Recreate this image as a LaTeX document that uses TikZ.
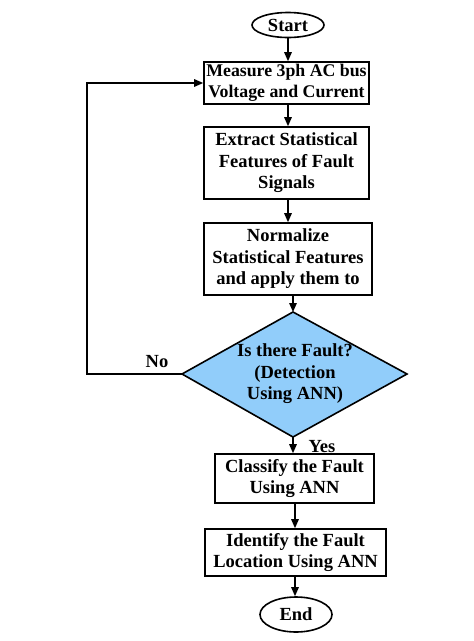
\documentclass[tikz,border=0pt]{standalone}
\usepackage{fontspec}
\setmainfont{Liberation Serif}
\usetikzlibrary{shapes.geometric,arrows.meta}
\definecolor{diafill}{RGB}{145,205,250}
\begin{document}
\begin{tikzpicture}[x=1pt,y=-1pt,
  every node/.style={font=\fontsize{18.5}{21.5}\selectfont\bfseries},
  procbox/.style={draw,line width=1.6pt,align=center,inner sep=0pt},
  term/.style={draw,ellipse,line width=1.6pt,inner sep=0pt},
  decision/.style={draw,fill=diafill,line width=1.6pt,line join=miter},
  arr/.style={line width=1.4pt,-{Triangle[length=9pt,width=7.5pt]}},
  lbl/.style={inner sep=0pt}]
\useasboundingbox (0,0) rectangle (474,641);
\node[term,minimum width=72pt,minimum height=25pt] (start) at (288,25) {Start};
\node[procbox,minimum width=165pt,minimum height=42pt,font=\fontsize{17.8}{20.5}\selectfont\bfseries] (measure) at (286.5,83) {Measure 3ph AC bus\\Voltage and Current};
\node[procbox,minimum width=165pt,minimum height=72pt] (extract) at (286.5,163) {Extract Statistical\\Features of Fault\\Signals};
\node[procbox,minimum width=168pt,minimum height=72pt] (norm) at (288,259) {Normalize\\Statistical Features\\and apply them to};
\coordinate (diaN) at (293,312);
\coordinate (diaE) at (407,374);
\coordinate (diaS) at (293,437);
\coordinate (diaW) at (182,374);
\draw[decision] (diaN) -- (diaE) -- (diaS) -- (diaW) -- cycle;
\node[align=center,inner sep=0pt] (dia) at (295,374) {Is there Fault?\\(Detection\\Using ANN)};
\node[procbox,minimum width=159pt,minimum height=49pt] (classify) at (294.5,478.5) {Classify the Fault\\Using ANN};
\node[procbox,minimum width=181pt,minimum height=47pt] (ident) at (295.5,552.5) {Identify the Fault\\Location Using ANN};
\node[term,minimum width=72pt,minimum height=35pt] (end) at (296,614.5) {End};
\coordinate (fb) at (87,374);
\draw[arr] (start.south) -- (start.south |- measure.north);
\draw[arr] (measure.south -| start) -- (start |- extract.north);
\draw[arr] (extract.south -| start) -- (start |- norm.north);
\draw[arr] (norm.south -| diaN) -- (diaN);
\draw[arr] (diaS) -- (classify.north -| diaS);
\draw[arr] (classify.south -| 295,0) -- (ident.north -| 295,0);
\draw[arr] (ident.south -| 295,0) -- (end.north -| 295,0);
\draw[arr] (diaW) -- (fb) |- (measure.west);
\node[lbl] (no) at (157,362) {No};
\node[lbl] (yes) at (322,447) {Yes};
\end{tikzpicture}
\end{document}
